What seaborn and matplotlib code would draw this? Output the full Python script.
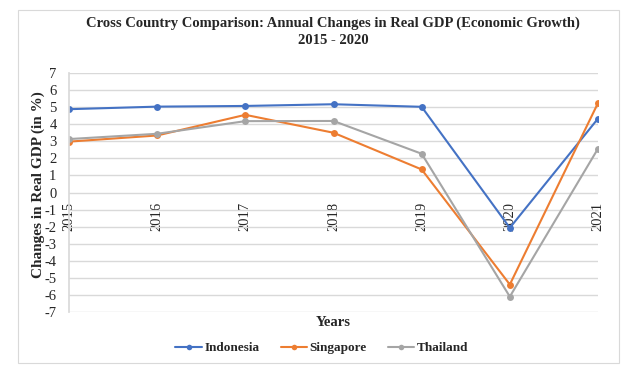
import matplotlib
matplotlib.use("Agg")
import matplotlib.pyplot as plt
import seaborn as sns
import pandas as pd
from matplotlib.patches import Rectangle
from matplotlib.lines import Line2D

years = [2015, 2016, 2017, 2018, 2019, 2020, 2021]
indonesia = [4.88, 5.03, 5.07, 5.17, 5.02, -2.07, 4.33]
singapore = [2.98, 3.34, 4.55, 3.50, 1.35, -5.39, 5.24]
thailand = [3.13, 3.44, 4.18, 4.19, 2.27, -6.10, 2.57]
countries = ["Indonesia", "Singapore", "Thailand"]
colors = ["#4472C4", "#ED7D31", "#A5A5A5"]
yticks = list(range(-7, 8))

df = pd.DataFrame({
    "Year": years * 3,
    "Value": indonesia + singapore + thailand,
    "Country": [c for c in countries for _ in years],
})

sns.set_theme(style="white")
plt.rcParams["font.family"] = ["Liberation Serif", "DejaVu Serif"]

fig = plt.figure(figsize=(6.37, 3.73), dpi=100)
fig.patches.append(Rectangle((18/637, 1-363/373), (619-18)/637, (363-10)/373,
                             transform=fig.transFigure, fill=False,
                             edgecolor="#D9D9D9", linewidth=0.8))
ax = fig.add_axes([69/637, 1-312/373, (598-69)/637, (312-73)/373])

sns.lineplot(data=df, x="Year", y="Value", hue="Country", palette=colors,
             marker="o", markersize=5, markeredgewidth=0, linewidth=1.5,
             ax=ax, legend=False)

ax.spines["bottom"].set_position(("data", 0))
ax.spines["bottom"].set_visible(False)
for s in ["top", "right"]:
    ax.spines[s].set_visible(False)
ax.spines["left"].set_color("#D9D9D9")

ax.set_xlim(2015, 2021)
ax.set_ylim(-7, 7)
ax.set_yticks(yticks)
ax.set_yticklabels([str(t) for t in yticks])
ax.set_xticks(years)
ax.set_xticklabels([str(y) for y in years])
plt.setp(ax.get_xticklabels(), rotation=90, fontsize=10.5, va="top", ha="center")
plt.setp(ax.get_yticklabels(), fontsize=10.5)
ax.yaxis.grid(True, color="#D9D9D9", linewidth=1)
ax.set_axisbelow(True)
ax.tick_params(axis="both", length=0)
ax.tick_params(axis="x", pad=7)
ax.tick_params(axis="y", pad=9)
ax.set_xlabel("")
ax.set_ylabel("")

fig.text(38/637, 1-185/373, "Changes in Real GDP (in %)", rotation=90,
         ha="center", va="center", fontsize=11, fontweight="bold")
fig.text(333/637, 1-322/373, "Years", ha="center", va="center",
         fontsize=10.5, fontweight="bold")
fig.text(333/637, 1-23/373, "Cross Country Comparison: Annual Changes in Real GDP (Economic Growth)",
         ha="center", va="center", fontsize=10.5, fontweight="bold")
fig.text(333/637, 1-41/373, "2015 - 2020", ha="center", va="center",
         fontsize=10.5, fontweight="bold")

handles = [Line2D([0], [0], color=c, marker="o", markersize=4, markeredgewidth=0,
                  linewidth=1.5) for c in colors]
fig.legend(handles, countries, loc="center", bbox_to_anchor=(322/637, 1-348/373),
           ncol=3, frameon=False, prop={"weight": "bold", "size": 9.5},
           handlelength=2.0, handletextpad=0.2, columnspacing=1.6)

fig.savefig("out.png", dpi=100)
